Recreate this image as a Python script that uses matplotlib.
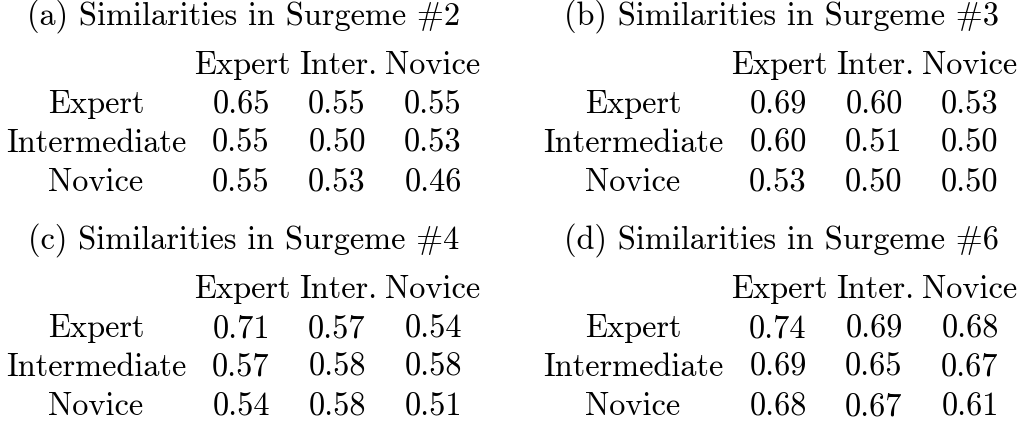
import matplotlib
matplotlib.use("Agg")
import matplotlib.pyplot as plt

titles = ["(a) Similarities in Surgeme #2", "(b) Similarities in Surgeme #3",
          "(c) Similarities in Surgeme #4", "(d) Similarities in Surgeme #6"]
col_labels = ["Expert", "Inter.", "Novice"]
row_labels = ["Expert", "Intermediate", "Novice"]
surgeme2 = [[0.65, 0.55, 0.55], [0.55, 0.50, 0.53], [0.55, 0.53, 0.46]]
surgeme3 = [[0.69, 0.60, 0.53], [0.60, 0.51, 0.50], [0.53, 0.50, 0.50]]
surgeme4 = [[0.71, 0.57, 0.54], [0.57, 0.58, 0.58], [0.54, 0.58, 0.51]]
surgeme6 = [[0.74, 0.69, 0.68], [0.69, 0.65, 0.67], [0.68, 0.67, 0.61]]
tables = [surgeme2, surgeme3, surgeme4, surgeme6]

plt.rcParams['font.family'] = ['cmr10', 'DejaVu Serif']
FS = 23.3

fig = plt.figure(figsize=(10.26, 4.32), dpi=100)
ax = fig.add_axes([0, 0, 1, 1])
ax.set_xlim(0, 1026)
ax.set_ylim(432, 0)
ax.axis('off')

# layout (pixel units)
panel_dx = [0, 537, 0, 537]
panel_dy = [0, 0, 224, 224]
title_x, title_y = 244, 25
header_y = 74
col_x = [241, 337, 433]
header_x = [242, 338, 433]
row_x = 96
row_y = [113, 152, 191]

for k, (title, data) in enumerate(zip(titles, tables)):
    dx, dy = panel_dx[k], panel_dy[k]
    ax.text(title_x + dx, title_y + dy, title, ha='center', va='baseline', fontsize=FS)
    for j, cl in enumerate(col_labels):
        ax.text(header_x[j] + dx, header_y + dy, cl, ha='center', va='baseline', fontsize=FS)
    for i, rl in enumerate(row_labels):
        ax.text(row_x + dx, row_y[i] + dy, rl, ha='center', va='baseline', fontsize=FS)
        for j in range(3):
            ax.text(col_x[j] + dx, row_y[i] + dy, f"{data[i][j]:.2f}",
                    ha='center', va='baseline', fontsize=FS)

fig.savefig("out.png", dpi=100)
